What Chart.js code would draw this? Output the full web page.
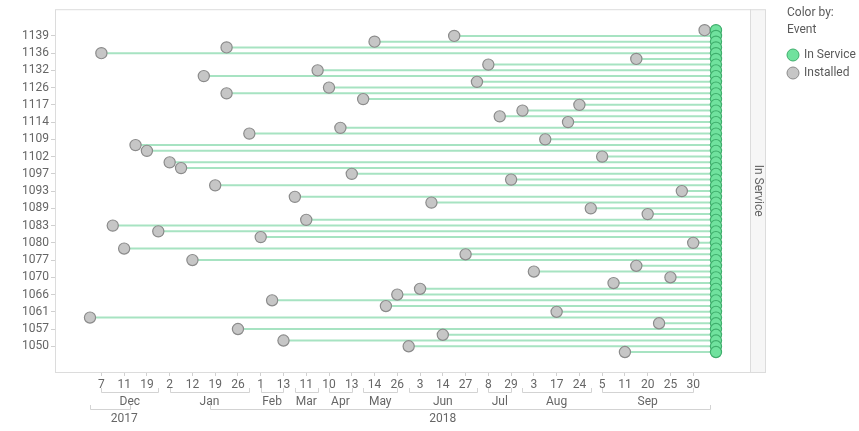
<!DOCTYPE html>
<html>
<head>
<meta charset="utf-8">
<title>Installed vs In Service</title>
<script src="https://cdn.jsdelivr.net/npm/chart.js@4/dist/chart.umd.min.js"></script>
<style>
html,body{margin:0;padding:0;background:#fff;}
</style>
</head>
<body>
<canvas id="chart" width="859" height="431"></canvas>
<script>
// every distinct event date, in axis order (the x axis is categorical)
const eventDates = [
  '2017-11-29','2017-12-07','2017-12-08','2017-12-11','2017-12-14','2017-12-19','2017-12-21',
  '2018-01-02','2018-01-09','2018-01-12','2018-01-16','2018-01-19','2018-01-23','2018-01-26','2018-01-30',
  '2018-02-01','2018-02-08','2018-02-13',
  '2018-03-06','2018-03-11','2018-03-20',
  '2018-04-10','2018-04-11','2018-04-13',
  '2018-05-03','2018-05-14','2018-05-22','2018-05-26',
  '2018-06-01','2018-06-03','2018-06-08','2018-06-14','2018-06-21','2018-06-27','2018-06-29',
  '2018-07-08','2018-07-17','2018-07-29',
  '2018-08-01','2018-08-03','2018-08-09','2018-08-17','2018-08-21','2018-08-24','2018-08-29',
  '2018-09-05','2018-09-07','2018-09-11','2018-09-14','2018-09-20','2018-09-23','2018-09-25','2018-09-27','2018-09-30',
  '2018-10-02','2018-10-04'
];

// rows, top to bottom
const siteIds = [
  '1141','1139','1138','1137','1136','1135','1133','1132','1130','1128',
  '1126','1124','1120','1117','1116','1115','1114','1112','1110','1109',
  '1106','1104','1102','1100','1099','1097','1095','1094','1093','1091',
  '1090','1089','1087','1085','1083','1082','1081','1080','1079','1078',
  '1077','1074','1072','1070','1069','1067','1066','1064','1063','1061',
  '1059','1058','1057','1055','1052','1050','1048'
];

const installedDates = [
  '2018-10-02','2018-06-21','2018-05-14','2018-01-23','2017-12-07','2018-09-14','2018-07-08','2018-03-20','2018-01-16','2018-06-29',
  '2018-04-10','2018-01-23','2018-05-03','2018-08-24','2018-08-01','2018-07-17','2018-08-21','2018-04-11','2018-01-30','2018-08-09',
  '2017-12-14','2017-12-19','2018-09-05','2018-01-02','2018-01-09','2018-04-13','2018-07-29','2018-01-19','2018-09-27','2018-03-06',
  '2018-06-08','2018-08-29','2018-09-20','2018-03-11','2017-12-08','2017-12-21','2018-02-01','2018-09-30','2017-12-11','2018-06-27',
  '2018-01-12','2018-09-14','2018-08-03','2018-09-25','2018-09-07','2018-06-03','2018-05-26','2018-02-08','2018-05-22','2018-08-17',
  '2017-11-29','2018-09-23','2018-01-26','2018-06-14','2018-02-13','2018-06-01','2018-09-11'
];

const inServiceDates = [
  '2018-10-04','2018-10-04','2018-10-04','2018-10-04','2018-10-04','2018-10-04','2018-10-04','2018-10-04','2018-10-04','2018-10-04',
  '2018-10-04','2018-10-04','2018-10-04','2018-10-04','2018-10-04','2018-10-04','2018-10-04','2018-10-04','2018-10-04','2018-10-04',
  '2018-10-04','2018-10-04','2018-10-04','2018-10-04','2018-10-04','2018-10-04','2018-10-04','2018-10-04','2018-10-04','2018-10-04',
  '2018-10-04','2018-10-04','2018-10-04','2018-10-04','2018-10-04','2018-10-04','2018-10-04','2018-10-04','2018-10-04','2018-10-04',
  '2018-10-04','2018-10-04','2018-10-04','2018-10-04','2018-10-04','2018-10-04','2018-10-04','2018-10-04','2018-10-04','2018-10-04',
  '2018-10-04','2018-10-04','2018-10-04','2018-10-04','2018-10-04','2018-10-04','2018-10-04'
];

const monthNames = ['Jan','Feb','Mar','Apr','May','Jun','Jul','Aug','Sep','Oct','Nov','Dec'];

const GREEN = '#70e29e', GREEN_EDGE = '#3fae6c';
const GRAY = '#c6c6c6', GRAY_EDGE = '#8b8b8b';
const LINE = '#a7e3c2';
const TEXT = '#666';
const STRIP_W = 16;

// only every other date / every third row gets a label
function showDay(i){ return i % 2 === 1 && i < eventDates.length - 1; }
function showRow(r){ return r % 3 === 1; }
function xi(d){ return eventDates.indexOf(d); }

const lineSets = siteIds.map((id, r) => ({
  label: id,
  data: [{x: xi(installedDates[r]), y: r}, {x: xi(inServiceDates[r]), y: r}],
  borderColor: LINE, borderWidth: 2, pointRadius: 0, order: 3
}));

const installedSet = {
  label: 'Installed',
  data: siteIds.map((id, r) => ({x: xi(installedDates[r]), y: r})),
  showLine: false, pointRadius: 5.6, pointBorderWidth: 1.2,
  pointBackgroundColor: GRAY, pointBorderColor: GRAY_EDGE, order: 2
};

const inServiceSet = {
  label: 'In Service',
  data: siteIds.map((id, r) => ({x: xi(inServiceDates[r]), y: r})),
  showLine: false, pointRadius: 5.6, pointBorderWidth: 1.2,
  pointBackgroundColor: GREEN, pointBorderColor: GREEN_EDGE, order: 1
};

function bracket(ctx, x0, x1, y){
  ctx.beginPath();
  ctx.moveTo(Math.round(x0)+0.5, y-4);
  ctx.lineTo(Math.round(x0)+0.5, y+0.5);
  ctx.lineTo(Math.round(x1)+0.5, y+0.5);
  ctx.lineTo(Math.round(x1)+0.5, y-4);
  ctx.stroke();
}

const decor = {
  id: 'decor',
  beforeDatasetsDraw(chart){
    const a = chart.chartArea, ctx = chart.ctx;
    ctx.save();
    ctx.fillStyle = '#f6f6f6';
    ctx.fillRect(a.right, a.top, STRIP_W, a.bottom - a.top);
    ctx.strokeStyle = '#dcdcdc'; ctx.lineWidth = 1;
    ctx.strokeRect(a.left+0.5, a.top+0.5, a.right - a.left + STRIP_W - 1, a.bottom - a.top);
    ctx.beginPath(); ctx.moveTo(a.right+0.5, a.top); ctx.lineTo(a.right+0.5, a.bottom); ctx.stroke();
    ctx.restore();
  },
  afterDraw(chart){
    const a = chart.chartArea, ctx = chart.ctx, xs = chart.scales.x, base = a.bottom;
    ctx.save();
    ctx.font = '12px Roboto';
    ctx.fillStyle = TEXT;
    ctx.textBaseline = 'middle';

    // trellis strip title
    ctx.save();
    ctx.translate(a.right + STRIP_W/2, (a.top + a.bottom)/2);
    ctx.rotate(Math.PI/2);
    ctx.textAlign = 'center';
    ctx.fillText('In Service', 0, 0);
    ctx.restore();

    // month / year levels of the date axis
    const months = [];
    eventDates.forEach((d, i) => {
      const key = d.slice(0, 7);
      let m = months[months.length-1];
      if(!m || m.key !== key){ m = {key, year: d.slice(0,4), mon: +d.slice(5,7), first: i, last: i, labeled: false}; months.push(m); }
      m.last = i;
      if(showDay(i)) m.labeled = true;
    });
    ctx.strokeStyle = '#d3d3d3'; ctx.lineWidth = 1; ctx.textAlign = 'center';
    months.forEach(m => {
      const x0 = xs.getPixelForValue(m.first), x1 = xs.getPixelForValue(m.last);
      m.center = (x0 + x1)/2;
      if(!m.labeled) return;
      bracket(ctx, x0, x1, base + 20);
      ctx.fillText(monthNames[m.mon-1], m.center, base + 30);
    });
    const years = [];
    months.forEach(m => {
      let y = years[years.length-1];
      if(!y || y.year !== m.year){ y = {year: m.year, months: []}; years.push(y); }
      y.months.push(m);
    });
    years.forEach(y => {
      const f = y.months[0], l = y.months[y.months.length-1];
      bracket(ctx, f.center, l.center, base + 37);
      const mid = (xs.getPixelForValue(f.first) + xs.getPixelForValue(l.last))/2;
      ctx.fillText(y.year, mid, base + 47);
    });

    // legend
    ctx.textAlign = 'left';
    ctx.fillStyle = '#5a5a5a';
    ctx.fillText('Color by:', 787, 13);
    ctx.fillText('Event', 787, 30);
    [[inServiceSet, 55], [installedSet, 73]].forEach(([ds, y]) => {
      ctx.beginPath();
      ctx.arc(793, y, 6, 0, Math.PI*2);
      ctx.fillStyle = ds.pointBackgroundColor; ctx.fill();
      ctx.strokeStyle = ds.pointBorderColor; ctx.lineWidth = 1; ctx.stroke();
      ctx.fillStyle = '#5a5a5a';
      ctx.fillText(ds.label, 804, y);
    });
    ctx.restore();
  }
};

Chart.defaults.font.family = 'Roboto';
Chart.defaults.font.size = 12;
Chart.defaults.color = TEXT;

new Chart(document.getElementById('chart').getContext('2d'), {
  type: 'line',
  data: { datasets: [...lineSets, installedSet, inServiceSet] },
  plugins: [decor],
  options: {
    responsive: false,
    animation: false,
    layout: { padding: { top: 8, right: 109, left: 0, bottom: 0 } },
    plugins: { legend: { display: false }, tooltip: { enabled: false } },
    scales: {
      x: {
        type: 'linear', min: -3.075, max: 57.99,
        afterBuildTicks: s => { s.ticks = eventDates.map((d, i) => i).filter(showDay).map(v => ({value: v})); },
        afterFit: s => { s.height = 59; },
        ticks: { autoSkip: false, maxRotation: 0, padding: 2, callback: v => String(+eventDates[v].slice(8)) },
        grid: { drawOnChartArea: false, tickLength: 4, color: '#d0d0d0' },
        border: { display: false }
      },
      y: {
        type: 'linear', reverse: true, min: -3.641, max: 59.467,
        afterBuildTicks: s => { s.ticks = siteIds.map((d, r) => r).filter(showRow).map(v => ({value: v})); },
        afterFit: s => { s.width = 55; },
        ticks: { autoSkip: false, padding: 2, callback: v => siteIds[v] },
        grid: { drawOnChartArea: false, tickLength: 4, color: '#d0d0d0' },
        border: { display: false }
      }
    }
  }
});
</script>
</body>
</html>
